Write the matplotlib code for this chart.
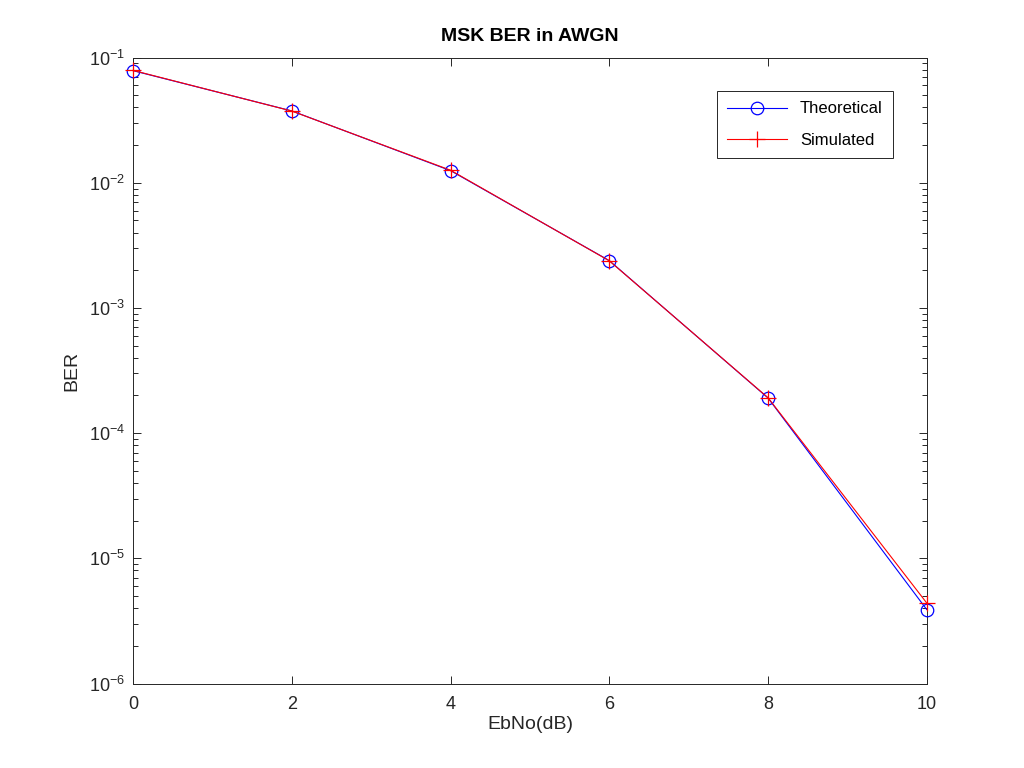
import math

import matplotlib
matplotlib.use("Agg")
import matplotlib.pyplot as plt
from matplotlib.ticker import FixedLocator, FuncFormatter, LogLocator, NullFormatter

plt.rcParams["font.family"] = ["Liberation Sans", "DejaVu Sans"]
plt.rcParams["mathtext.fontset"] = "custom"
plt.rcParams["mathtext.rm"] = "Liberation Sans"
plt.rcParams["mathtext.it"] = "Liberation Sans"
plt.rcParams["mathtext.default"] = "regular"

ebno_db = [0, 2, 4, 6, 8, 10]
ber_theory = [7.86e-2, 3.75e-2, 1.25e-2, 2.39e-3, 1.91e-4, 3.9e-6]
ber_sim = [7.9e-2, 3.74e-2, 1.26e-2, 2.38e-3, 1.92e-4, 4.4e-6]
y_decades = [-6, -5, -4, -3, -2, -1]

fig = plt.figure(figsize=(10.24, 7.68), dpi=100)
ax = fig.add_axes([0.13, 0.11, 0.775, 0.815])

ax.semilogy(ebno_db, ber_theory, color="#0000ff", linewidth=0.8, marker="o",
            markersize=9, markerfacecolor="none", markeredgewidth=0.9,
            label="Theoretical", clip_on=False, zorder=3)
ax.semilogy(ebno_db, ber_sim, color="#ff0000", linewidth=0.8, marker="+",
            markersize=11, markeredgewidth=0.9, label="Simulated",
            clip_on=False, zorder=4)

ax.set_xlim(0, 10)
ax.set_ylim(1e-6, 1e-1)
ax.set_xticks(ebno_db)
ax.yaxis.set_major_locator(FixedLocator([10.0 ** d for d in y_decades]))
ax.yaxis.set_major_formatter(
    FuncFormatter(lambda v, pos: r"$10^{%d}$" % round(math.log10(v))))
ax.yaxis.set_minor_locator(LogLocator(base=10, subs=range(2, 10), numticks=100))
ax.yaxis.set_minor_formatter(NullFormatter())

ax.tick_params(which="both", direction="in", top=True, right=True,
               labelsize=13, colors="#262626")
ax.tick_params(which="major", length=6, width=0.7)
ax.tick_params(which="minor", length=3.5, width=0.7)
ax.tick_params(axis="x", pad=9)
ax.tick_params(axis="y", pad=6)
for s in ax.spines.values():
    s.set_linewidth(0.7)
    s.set_color("#262626")

ax.set_xlabel("EbNo(dB)", fontsize=14, color="#262626", labelpad=2)
ax.set_ylabel("BER", fontsize=14, color="#262626", labelpad=6)
ax.set_title("MSK BER in AWGN", fontsize=14, fontweight="bold", pad=12)

leg = ax.legend(loc="upper right", bbox_to_anchor=(0.957, 0.946), fontsize=12,
                fancybox=False, framealpha=1, edgecolor="#262626",
                handlelength=3.6, borderpad=0.6, labelspacing=1.0,
                handletextpad=0.8, borderaxespad=0)
leg.get_frame().set_linewidth(0.7)

fig.savefig("out.png", dpi=100)
